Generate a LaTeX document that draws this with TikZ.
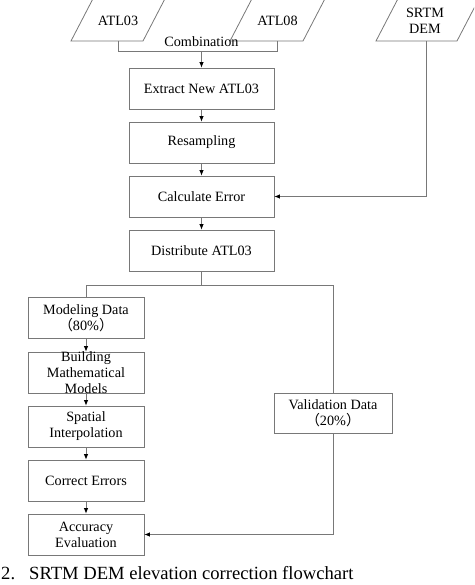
\documentclass[tikz,border=0pt]{standalone}
\usepackage{fontspec}
\setmainfont{Liberation Serif}
\newfontfamily\cjk{Noto Sans CJK SC}
\usetikzlibrary{arrows.meta}
\definecolor{ln}{RGB}{120,120,120}
\newcommand\boxfont{\fontsize{14.2pt}{16pt}\selectfont}
\newcommand\capfont{\fontsize{18.6pt}{20pt}\selectfont}
\begin{document}
\begin{tikzpicture}[x=1pt,y=-1pt,
  box/.style={draw=ln, line width=0.8pt, minimum width=145pt, minimum height=41pt, inner sep=0pt, align=center, font=\boxfont},
  sbox/.style={box, minimum width=116pt},
  vbox/.style={box, minimum width=118pt, minimum height=40pt},
  lbl/.style={inner sep=0pt, align=center, font=\boxfont},
  par/.style={draw=ln, line width=0.8pt},
  conn/.style={draw=ln, line width=0.8pt},
  arr/.style={conn, -{Latex[length=5.5pt,width=4.5pt,color=black]}}]
\useasboundingbox (0,0) rectangle (474,585);
\clip (0,0) rectangle (474,585);

% input parallelograms
\draw[par] (71,41) -- (143,41) -- (169.5,-10) -- (97.5,-10) -- cycle;
\draw[par] (230,41) -- (303,41) -- (329.5,-10) -- (256.5,-10) -- cycle;
\draw[par] (376,41) -- (457,41) -- (483.5,-10) -- (402.5,-10) -- cycle;
\node[lbl] (atl03) at (118,21) {ATL03};
\node[lbl] (atl08) at (277.5,21) {ATL08};
\node[lbl] (srtm) at (425,21) {SRTM\\DEM};
\coordinate (atl03b) at (118,41);
\coordinate (atl08b) at (277.5,41);
\coordinate (srtmb) at (426,41);
\coordinate (comb) at (201.5,51.5);

% main column
\node[box] (extract) at (201.5,88.5) {Extract New ATL03};
\node[box] (resamp) at (201.5,142.5) {Resampling};
\node[box] (calc) at (201.5,196.5) {Calculate Error};
\node[box] (distr) at (201.5,250.5) {Distribute ATL03};

% left column
\node[sbox] (model) at (86,318) {Modeling Data\\{\cjk （}80\%{\cjk ）}};
\node[sbox] (build) at (86,372.5) {};
\node[lbl] (buildt) at (build) {Building\\Mathematical\\Models};
\node[sbox] (spatial) at (86,426.5) {Spatial\\Interpolation};
\node[sbox] (correct) at (86,480.5) {Correct Errors};
\node[sbox] (accur) at (86,534.5) {Accuracy\\Evaluation};

% validation
\node[vbox] (valid) at (333,413) {Validation Data\\{\cjk （}20\%{\cjk ）}};

% connectors
\draw[conn] (atl03b) -- (118,51.5) -- (277.5,51.5) -- (atl08b);
\node[lbl, anchor=base] (combt) at (201.5,47) {Combination};
\draw[arr] (comb) -- (extract.north);
\draw[arr] (extract) -- (resamp);
\draw[arr] (resamp) -- (calc);
\draw[arr] (calc) -- (distr);
\draw[arr] (srtmb) |- (calc.east);
\coordinate (split) at (201.5,285.5);
\draw[conn] (distr.south) -- (split);
\draw[conn] (split) -| (model.north);
\draw[conn] (split) -| (valid.north);
\draw[arr] (model) -- (build);
\draw[arr] (build) -- (spatial);
\draw[arr] (spatial) -- (correct);
\draw[arr] (correct) -- (accur);
\draw[arr] (valid.south) |- (accur.east);

% caption
\node[inner sep=0pt, anchor=base west, font=\capfont] (cap) at (29,579.5) {SRTM DEM elevation correction flowchart};
\node[inner sep=0pt, anchor=base west, font=\capfont] (capnum) at (1,579.5) {2.};
\end{tikzpicture}
\end{document}
